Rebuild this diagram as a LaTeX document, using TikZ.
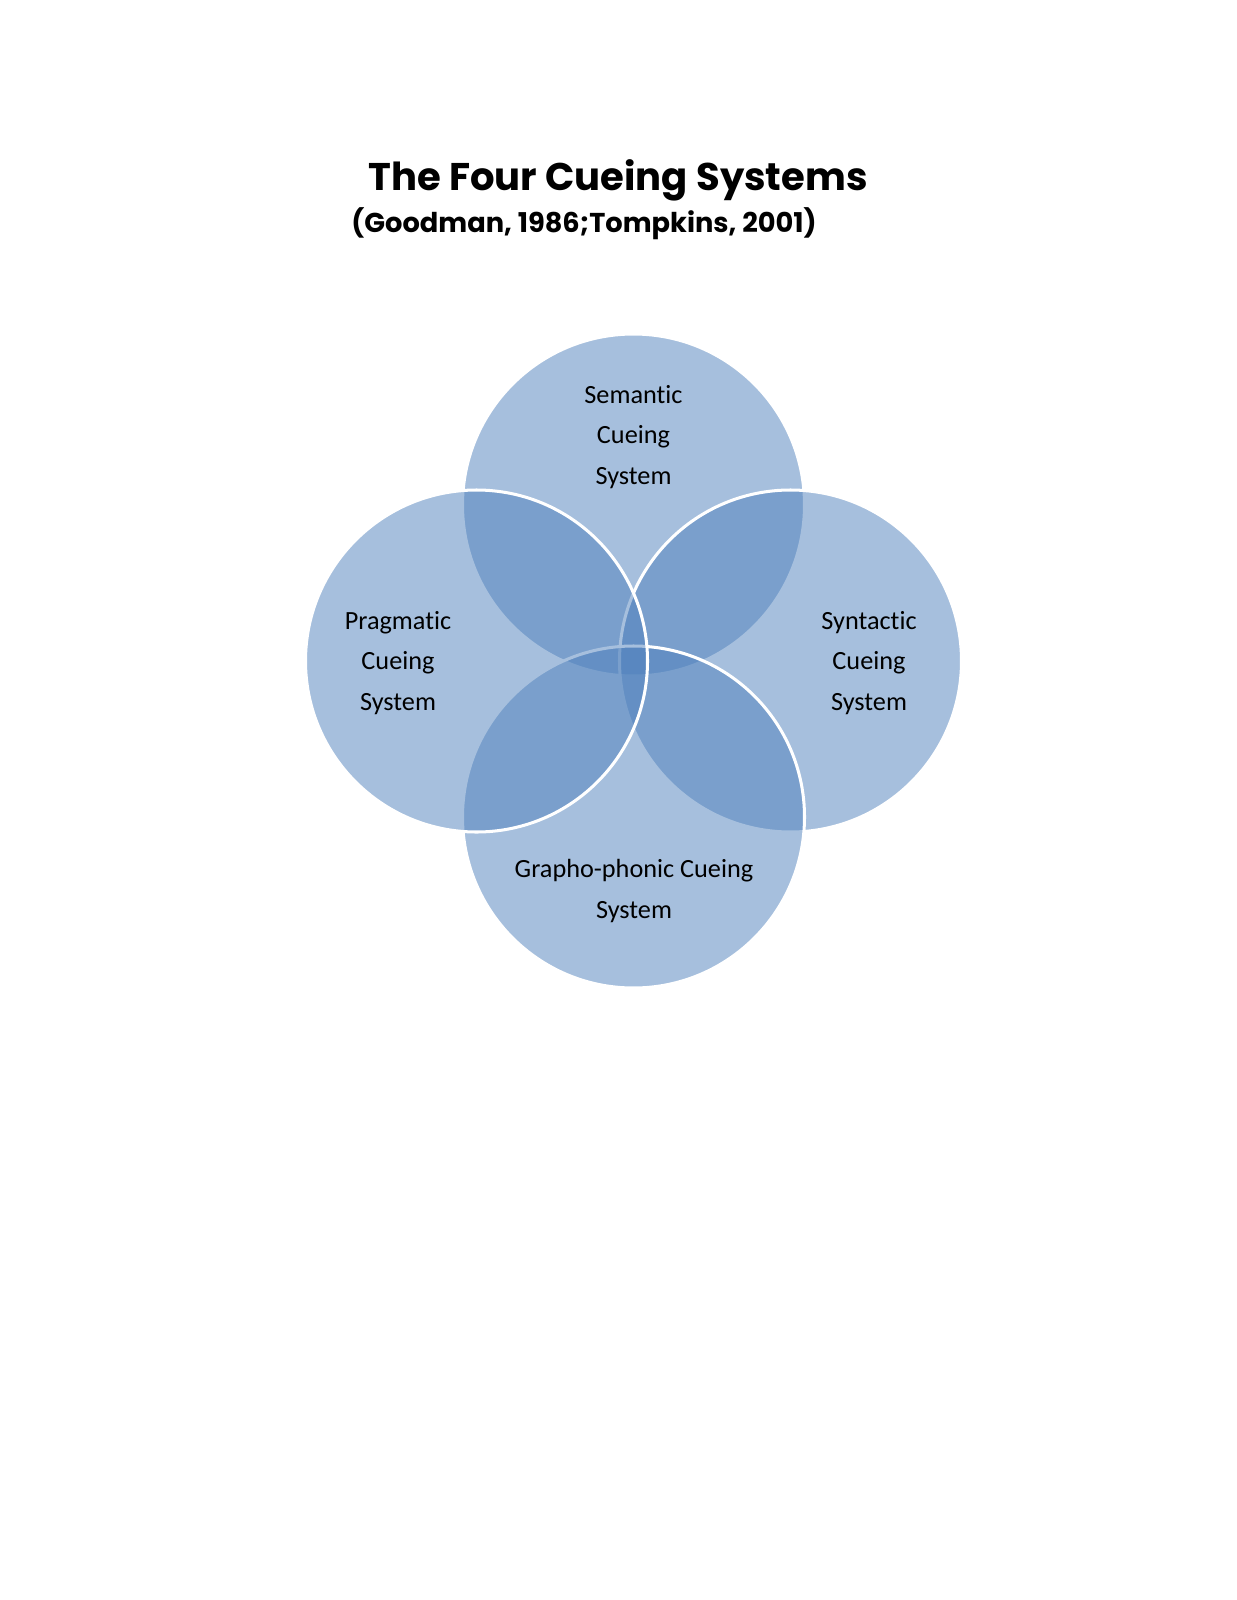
\documentclass[tikz,border=0pt]{standalone}
\usepackage{fontspec}
\setmainfont{Carlito}[Ligatures=NoCommon]
\newfontfamily\titlefont{Poppins}
\definecolor{vennblue}{HTML}{4F81BD}
\begin{document}
\begin{tikzpicture}[x=0.495146bp,y=-0.495146bp,
  venn/.style={fill=vennblue, fill opacity=0.5, draw=white, draw opacity=1, line width=1.5bp},
  lbl/.style={font=\fontsize{13bp}{20bp}\selectfont, align=center, text=black, inner sep=0pt},
  ttl/.style={font=\titlefont\bfseries\fontsize{19.1bp}{23bp}\selectfont, anchor=base, inner sep=0pt},
  sub/.style={font=\titlefont\bfseries\fontsize{13.5bp}{16bp}\selectfont, anchor=base, inner sep=0pt}]
\useasboundingbox[fill=white] (0,0) rectangle (1236,1600);
\coordinate (ctop) at (633.5,505);
\coordinate (cright) at (790.5,661);
\coordinate (cbottom) at (633.5,817);
\coordinate (cleft) at (476.5,661);
\path[venn] (ctop) circle[radius=171];
\path[venn] (cright) circle[radius=171];
\path[venn] (cbottom) circle[radius=171];
\path[venn] (cleft) circle[radius=171];
\node[ttl] (title) at (618,190) {The Four Cueing Systems};
\node[sub] (subtitle) at (584,232) {(Goodman, 1986;Tompkins, 2001)};
\node[lbl] (semantic) at (633.5,437) {Semantic\\Cueing\\System};
\node[lbl] (pragmatic) at (398,663) {Pragmatic\\Cueing\\System};
\node[lbl] (syntactic) at (869,663) {Syntactic\\Cueing\\System};
\node[lbl] (grapho) at (634,891) {Grapho-phonic Cueing\\System};
\end{tikzpicture}
\end{document}
